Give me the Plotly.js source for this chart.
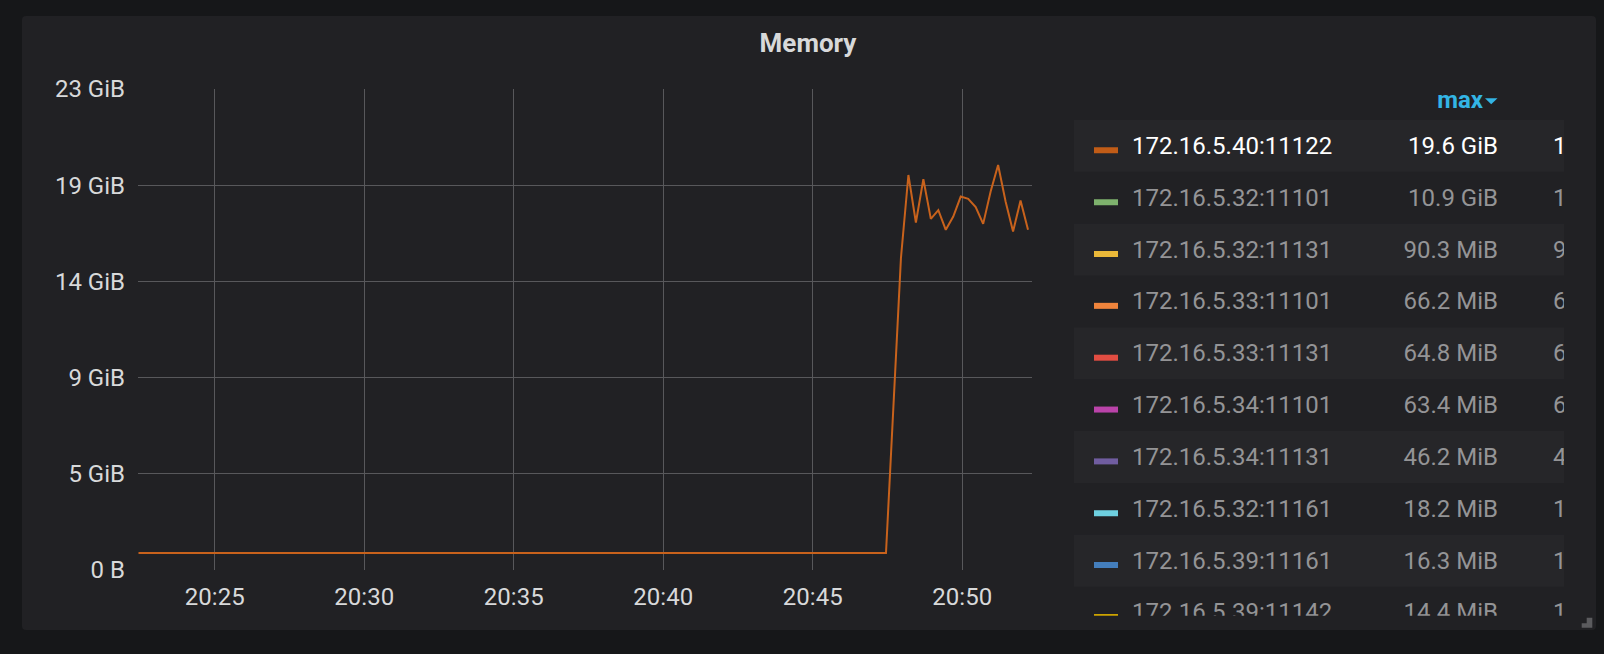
<!DOCTYPE html>
<html>
<head>
<meta charset="utf-8">
<script src="https://cdn.plot.ly/plotly-3.0.1.min.js"></script>
<style>
  html, body { margin: 0; padding: 0; background: #161719; }
  #chart { width: 1604px; height: 654px; }
</style>
</head>
<body>
<div id="chart"></div>
<script>
// ---------------- data ----------------
const DAY = '2019-05-28 ';
const seriesName = '172.16.5.40:11122';
const seriesTimes = [
  '20:22:27', '20:47:27', '20:47:57', '20:48:12', '20:48:27', '20:48:42',
  '20:48:57', '20:49:12', '20:49:27', '20:49:42', '20:49:57', '20:50:12',
  '20:50:27', '20:50:42', '20:50:57', '20:51:12', '20:51:27', '20:51:42',
  '20:51:57', '20:52:12'
];
const seriesBytes = [
  0.883e9, 0.883e9, 16.21e9, 20.53e9, 18.06e9, 20.31e9,
  18.25e9, 18.70e9, 17.68e9, 18.37e9, 19.41e9, 19.29e9,
  18.86e9, 17.99e9, 19.67e9, 21.05e9, 19.15e9, 17.59e9,
  19.20e9, 17.68e9
];
const yTickVals = [0, 5e9, 10e9, 15e9, 20e9, 25e9];
const yTickText = ['0 B', '5 GiB', '9 GiB', '14 GiB', '19 GiB', '23 GiB'];
const xRange = ['20:22:26', '20:52:20'];

const legendNames = [
  '172.16.5.40:11122', '172.16.5.32:11101', '172.16.5.32:11131', '172.16.5.33:11101',
  '172.16.5.33:11131', '172.16.5.34:11101', '172.16.5.34:11131', '172.16.5.32:11161',
  '172.16.5.39:11161', '172.16.5.39:11142'
];
const legendMax = [
  '19.6 GiB', '10.9 GiB', '90.3 MiB', '66.2 MiB', '64.8 MiB',
  '63.4 MiB', '46.2 MiB', '18.2 MiB', '16.3 MiB', '14.4 MiB'
];
const legendNext = ['1', '1', '9', '6', '64', '6', '4', '1', '1', '1'];
const legendColors = [
  '#C15C17', '#7EB26D', '#EAB839', '#EF843C', '#E24D42',
  '#BA43A9', '#705DA0', '#6ED0E0', '#447EBC', '#CCA300'
];
const legendActive = [true, false, false, false, false, false, false, false, false, false];
const legendHeader = 'max';

// ---------------- layout helpers ----------------
const W = 1604, H = 654;
const FONT = 'Roboto, "Open Sans", sans-serif';
const px = x => x / W;
const py = y => 1 - y / H;
const P = (x, y) => px(x) + ',' + py(y);

// main plot area in pixels
const PL = 138, PR = 1032, PT = 89, PB = 570;
// legend area in pixels (clip box)
const LL = 1040, LR = 1564, LT = 88, LB = 615.7;
const ROW0 = 120, ROWH = 51.85;

const rowCenter = i => ROW0 + ROWH * i + 25.5;
const textY = i => rowCenter(i) + 2.3;

// panel background with rounded corners
const r = 4, X0 = 22, X1 = 1596, Y0 = 16, Y1 = 630;
const panelPath = 'M' + P(X0 + r, Y0) + ' L' + P(X1 - r, Y0) + ' Q' + P(X1, Y0) + ' ' + P(X1, Y0 + r) +
  ' L' + P(X1, Y1 - r) + ' Q' + P(X1, Y1) + ' ' + P(X1 - r, Y1) +
  ' L' + P(X0 + r, Y1) + ' Q' + P(X0, Y1) + ' ' + P(X0, Y1 - r) +
  ' L' + P(X0, Y0 + r) + ' Q' + P(X0, Y0) + ' ' + P(X0 + r, Y0) + ' Z';

const shapes = [
  { type: 'path', xref: 'paper', yref: 'paper', layer: 'below', path: panelPath,
    fillcolor: '#212124', line: { width: 0 } },
  // resize handle
  { type: 'path', xref: 'paper', yref: 'paper', layer: 'above',
    path: 'M' + P(1592.3, 617.7) + ' L' + P(1592.3, 627.7) + ' L' + P(1581.7, 627.7) +
      ' L' + P(1581.7, 623.3) + ' L' + P(1586.7, 623.3) + ' L' + P(1586.7, 617.7) + ' Z',
    fillcolor: '#5b5b5e', line: { width: 0 } },
  // sort triangle in header
  { type: 'path', xref: 'x2', yref: 'y2', layer: 'above',
    path: 'M 1485 98.3 L 1497.5 98.3 L 1491.2 104.3 Z',
    fillcolor: '#33b5e5', line: { width: 0 } }
];
legendNames.forEach((n, i) => {
  if (i % 2 === 0) {
    shapes.push({ type: 'rect', xref: 'x2', yref: 'y2', layer: 'below',
      x0: 1074, x1: 1564, y0: ROW0 + ROWH * i, y1: ROW0 + ROWH * (i + 1),
      fillcolor: '#262629', line: { width: 0 } });
  }
  const c = rowCenter(i) + 4.8;
  shapes.push({ type: 'rect', xref: 'x2', yref: 'y2', layer: 'above',
    x0: 1094, x1: 1118, y0: c - 3, y1: c + 3,
    fillcolor: legendColors[i], line: { width: 0 } });
});

const textColors = legendActive.map(a => a ? '#ffffff' : '#949496');
const rowsY = legendNames.map((n, i) => textY(i));

const traces = [
  {
    type: 'scatter', mode: 'lines', name: seriesName,
    x: seriesTimes.map(t => DAY + t), y: seriesBytes,
    line: { color: '#C8621C', width: 2 },
    xaxis: 'x', yaxis: 'y', hoverinfo: 'skip'
  },
  {
    type: 'scatter', mode: 'text', x: legendNames.map(() => 1132), y: rowsY,
    text: legendNames, textposition: 'middle right',
    textfont: { family: FONT, size: 24, color: textColors },
    xaxis: 'x2', yaxis: 'y2', cliponaxis: true, hoverinfo: 'skip'
  },
  {
    type: 'scatter', mode: 'text', x: legendMax.map(() => 1498), y: rowsY,
    text: legendMax, textposition: 'middle left',
    textfont: { family: FONT, size: 24, color: textColors },
    xaxis: 'x2', yaxis: 'y2', cliponaxis: true, hoverinfo: 'skip'
  },
  {
    type: 'scatter', mode: 'text', x: legendNext.map(() => 1553), y: rowsY,
    text: legendNext, textposition: 'middle right',
    textfont: { family: FONT, size: 24, color: textColors },
    xaxis: 'x2', yaxis: 'y2', cliponaxis: true, hoverinfo: 'skip'
  },
  {
    type: 'scatter', mode: 'text', x: [1483], y: [102],
    text: [legendHeader], textposition: 'middle left',
    textfont: { family: FONT, size: 24, color: '#33b5e5', weight: 'bold' },
    xaxis: 'x2', yaxis: 'y2', cliponaxis: true, hoverinfo: 'skip'
  }
];

const layout = {
  width: W, height: H,
  margin: { l: 0, r: 0, t: 0, b: 0, pad: 0 },
  paper_bgcolor: '#161719',
  plot_bgcolor: 'rgba(0,0,0,0)',
  showlegend: false,
  hovermode: false,
  font: { family: FONT, color: '#d8d9da', size: 24 },
  title: {
    text: 'Memory', xref: 'paper', yref: 'paper',
    x: 808 / W, y: py(43), xanchor: 'center', yanchor: 'middle',
    font: { family: FONT, size: 26, color: '#d8d9da', weight: 'bold' }
  },
  xaxis: {
    type: 'date', domain: [px(PL), px(PR)], anchor: 'y',
    range: xRange.map(t => DAY + t),
    tick0: DAY + '20:25:00', dtick: 300000, tickformat: '%H:%M',
    showgrid: true, gridcolor: '#58585b', gridwidth: 1.2,
    zeroline: false, showline: false, ticks: '',
    ticklabelstandoff: 10,
    tickfont: { family: FONT, size: 24, color: '#d8d9da' },
    fixedrange: true
  },
  yaxis: {
    domain: [py(PB), py(PT)], anchor: 'x',
    range: [0, 25e9],
    tickmode: 'array', tickvals: yTickVals, ticktext: yTickText,
    showgrid: true, gridcolor: '#58585b', gridwidth: 1.2,
    zeroline: false, showline: false, ticks: '',
    ticklabelstandoff: 12,
    tickfont: { family: FONT, size: 24, color: '#d8d9da' },
    fixedrange: true
  },
  xaxis2: {
    domain: [px(LL), px(LR)], anchor: 'y2', range: [LL, LR],
    showgrid: false, zeroline: false, showticklabels: false, showline: false, ticks: '',
    fixedrange: true
  },
  yaxis2: {
    domain: [py(LB), py(LT)], anchor: 'x2', range: [LB, LT],
    showgrid: false, zeroline: false, showticklabels: false, showline: false, ticks: '',
    fixedrange: true
  },
  shapes: shapes
};

Plotly.newPlot('chart', traces, layout, { displayModeBar: false, staticPlot: true });
</script>
</body>
</html>
